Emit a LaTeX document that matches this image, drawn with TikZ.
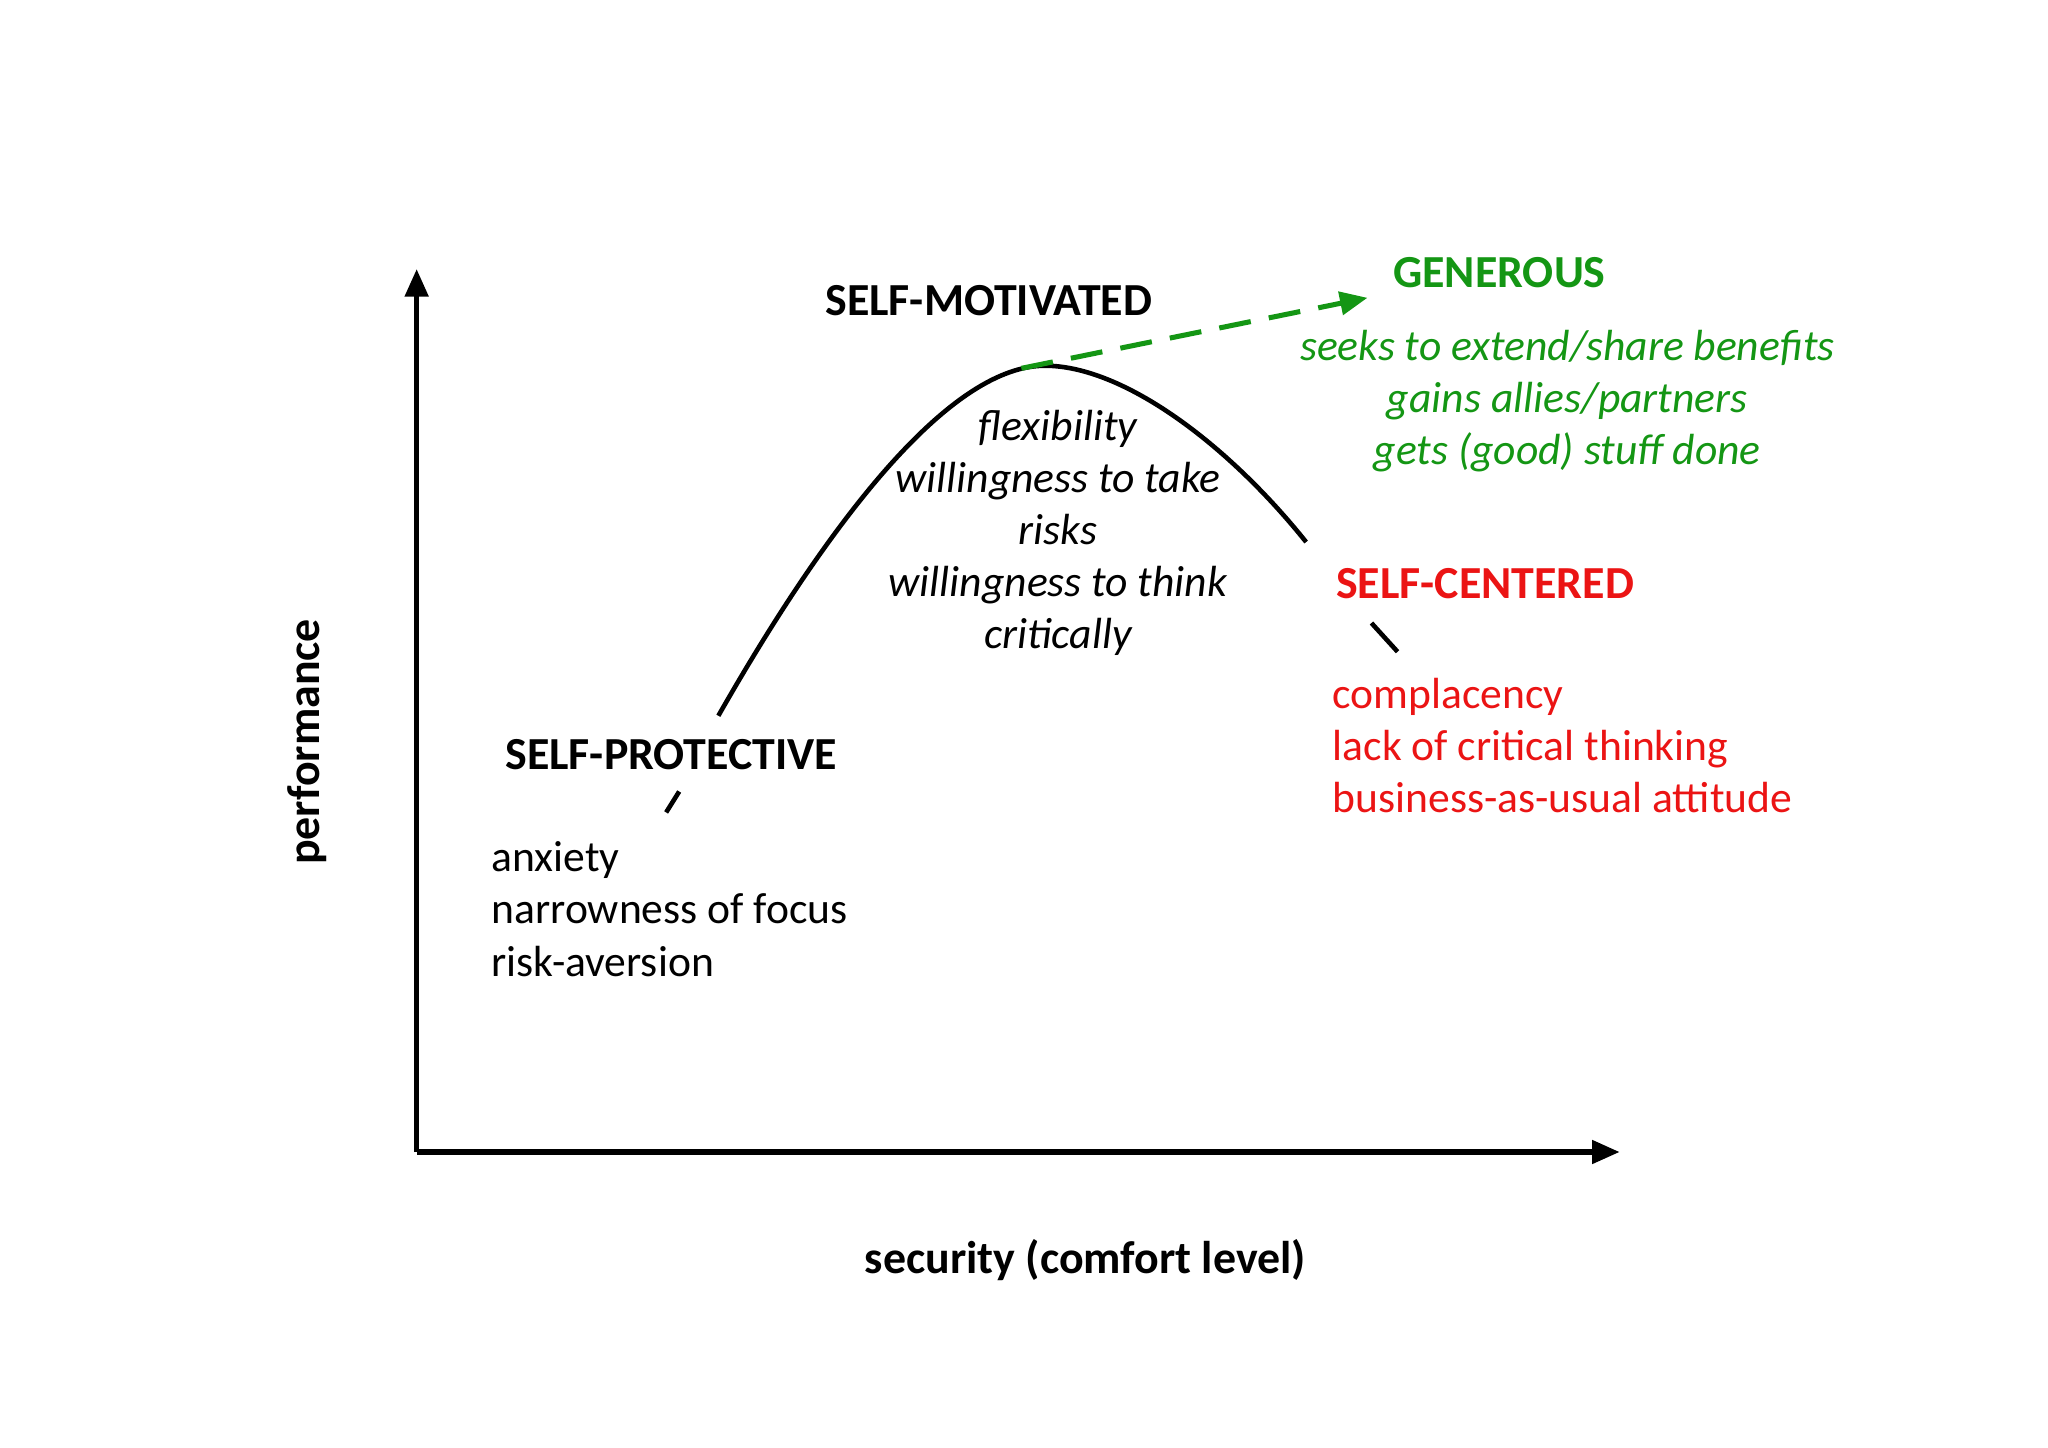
\documentclass[tikz,border=0pt]{standalone}
\usepackage{fontspec}
\setmainfont{Carlito}
\usetikzlibrary{arrows.meta}
\definecolor{gr}{RGB}{20,150,20}
\definecolor{rd}{RGB}{235,20,20}
\begin{document}
\begin{tikzpicture}[x=0.02cm,y=-0.02cm,
  txt/.style={font=\fontsize{19}{22.7}\selectfont,inner sep=0pt},
  head/.style={font=\fontsize{20}{24}\selectfont\bfseries,inner sep=0pt},
  axis/.style={line width=2.2pt,-{Triangle[length=12pt,width=10pt]}}]
\useasboundingbox (0,0) rectangle (1568,1108);
\coordinate (o) at (319,882);
\coordinate (yt) at (319,206);
\coordinate (xt) at (1240,882);
\draw[axis] (o) -- (yt);
\draw[axis] (o) -- (xt);
\coordinate (c0) at (550,548);
\coordinate (pk) at (800,280);
\coordinate (c1) at (1000,415);
\draw[line width=2pt] (c0) .. controls (640,390) and (730,280) .. (pk) .. controls (860,280) and (940,340) .. (c1);
\coordinate (d1) at (1050,477); \coordinate (d2) at (1070,499);
\draw[line width=2pt] (d1) -- (d2);
\coordinate (e1) at (510,622); \coordinate (e2) at (520,606);
\draw[line width=2pt] (e1) -- (e2);
\coordinate (g0) at (782,282); \coordinate (g1) at (1047,228);
\draw[gr,line width=2.2pt,dash pattern=on 14pt off 8pt,-{Triangle[length=12pt,width=10pt]}] (g0) -- (g1);
\node[head] (sm) at (757,230) {SELF-MOTIVATED};
\node[head,text=gr] (gen) at (1148,209) {GENEROUS};
\node[txt,text=gr,align=center,font=\fontsize{19}{22.7}\selectfont\itshape] (gl) at (1200,307) {seeks to extend/share benefits\\gains allies/partners\\gets (good) stuff done};
\node[txt,align=center,font=\fontsize{19}{22.7}\selectfont\itshape] (mid) at (810,408) {flexibility\\willingness to take\\risks\\willingness to think\\critically};
\node[head,text=rd] (sc) at (1137,447) {SELF-CENTERED};
\node[txt,text=rd,align=left,anchor=west] (rl) at (1020,571) {complacency\\lack of critical thinking\\business-as-usual attitude};
\node[head] (sp) at (514,578) {SELF-PROTECTIVE};
\node[txt,align=left,anchor=west] (bl) at (376,696) {anxiety\\narrowness of focus\\risk-aversion};
\node[head,rotate=90] (perf) at (235,568) {performance};
\node[head] (sec) at (831,965) {security (comfort level)};
\end{tikzpicture}
\end{document}
